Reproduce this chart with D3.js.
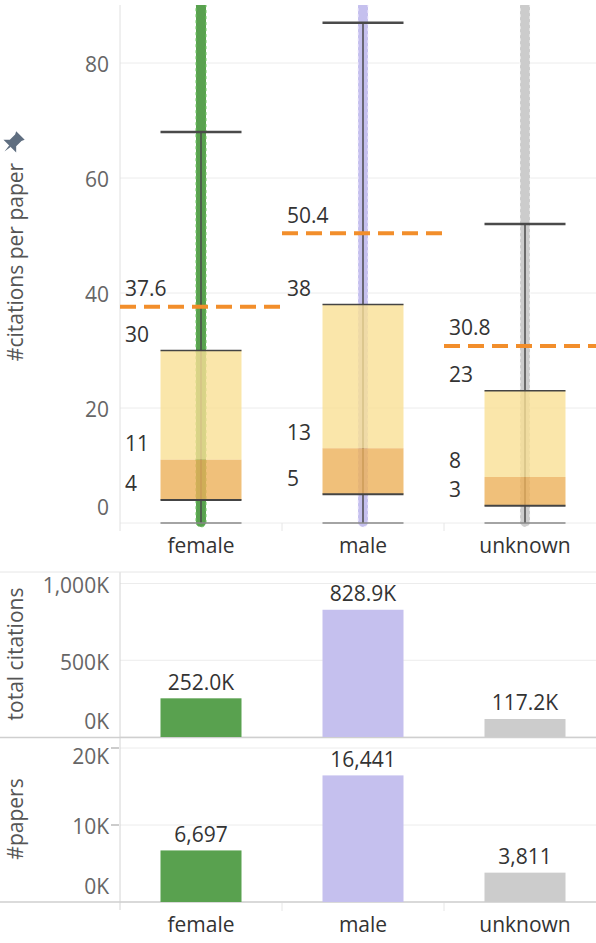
<!DOCTYPE html>
<html lang="en">
<head>
<meta charset="UTF-8"/>
<title>Citations by gender</title>
<script src="https://d3js.org/d3.v7.min.js"></script>
<style>
    body { margin: 0; background: #fff; }
    text { font-family: "Open Sans", "Noto Sans", sans-serif; }
</style>
</head>
<body>
<svg id="chart"></svg>
<script>
    // data
    const categories = ["female", "male", "unknown"];
    const colors = ["#59A14F", "#C5C0EE", "#CCCCCC"];
    const whiskerLow = [0, 0, 0];
    const q1 = [4, 5, 3];
    const median = [11, 13, 8];
    const q3 = [30, 38, 23];
    const whiskerHigh = [68, 87, 52];
    const mean = [37.6, 50.4, 30.8];
    const pointMax = [95, 95, 95];   // points run past the top of the axis
    const totalCitations = [252000, 828900, 117200];
    const papers = [6697, 16441, 3811];
    const boxTicks = [0, 20, 40, 60, 80];
    const citeTicks = [0, 500000, 1000000];
    const paperTicks = [0, 10000, 20000];

    const width = 596, height = 943;
    const left = 120;

    const svg = d3.select("#chart").attr("width", width).attr("height", height);

    const x = d3.scaleBand().domain(categories).range([left, left + 162 * 3]);
    const bw = x.bandwidth() / 2;   // box / bar width
    const boxX = c => x(c) + (x.bandwidth() - bw) / 2;
    const mid = c => x(c) + x.bandwidth() / 2;

    // panes
    const pTop = {top: 5, bottom: 523, y: d3.scaleLinear().domain([0, 90]).range([523, 5.5])};
    const pCite = {top: 572, bottom: 737, y: d3.scaleLinear().domain([0, 1000000]).range([737, 583.5])};
    const pPap = {top: 748, bottom: 902, y: d3.scaleLinear().domain([0, 20000]).range([902, 748])};

    svg.append("defs").append("clipPath").attr("id", "clipTop")
        .append("rect").attr("x", left).attr("y", pTop.top).attr("width", width - left).attr("height", pTop.bottom - pTop.top + 6);

    // grid lines + tick labels
    function drawAxis(pane, ticks, fmt, tickMarks) {
        const g = svg.append("g");
        g.selectAll("line.grid").data(ticks).join("line")
            .attr("x1", left).attr("x2", width)
            .attr("y1", d => pane.y(d)).attr("y2", d => pane.y(d))
            .attr("stroke", "#ececec").attr("stroke-width", 1);
        g.selectAll("text").data(ticks).join("text")
            .attr("x", 109)
            .attr("y", d => Math.max(pane.top + 9, Math.min(pane.y(d) + 2, pane.bottom - 15)))
            .attr("dy", "0.35em")
            .attr("text-anchor", "end")
            .style("font-size", "21px")
            .style("fill", "#666")
            .text(fmt);
        if (tickMarks) {
            g.selectAll("line.tick").data(ticks.filter(d => d > 0)).join("line")
                .attr("x1", 111).attr("x2", 119)
                .attr("y1", d => pane.y(d)).attr("y2", d => pane.y(d))
                .attr("stroke", "#999");
        }
    }

    drawAxis(pTop, boxTicks, d => d, false);
    drawAxis(pCite, citeTicks, d => d3.format(",")(d / 1000) + "K", false);
    drawAxis(pPap, paperTicks, d => d / 1000 + "K", true);

    // frame lines
    svg.append("line").attr("x1", left).attr("x2", left).attr("y1", 5).attr("y2", 531).attr("stroke", "#e0e0e0");
    svg.append("line").attr("x1", left).attr("x2", left).attr("y1", 572).attr("y2", 910).attr("stroke", "#d4d4d4");
    svg.append("line").attr("x1", 0).attr("x2", width).attr("y1", 572).attr("y2", 572).attr("stroke", "#e6e6e6");
    svg.append("line").attr("x1", 0).attr("x2", width).attr("y1", 737.5).attr("y2", 737.5).attr("stroke", "#cfcfcf").attr("stroke-width", 1.5);
    svg.append("line").attr("x1", 0).attr("x2", width).attr("y1", 902).attr("y2", 902).attr("stroke", "#cfcfcf").attr("stroke-width", 1.5);
    [x("male"), x("unknown")].forEach(xx => {
        svg.append("line").attr("x1", xx).attr("x2", xx).attr("y1", 523).attr("y2", 531).attr("stroke", "#e6e6e6");
        svg.append("line").attr("x1", xx).attr("x2", xx).attr("y1", 903).attr("y2", 911).attr("stroke", "#e6e6e6");
    });

    // box plot
    const rows = categories.map((c, i) => ({
        c, color: colors[i], lo: whiskerLow[i], q1: q1[i], med: median[i], q3: q3[i],
        hi: whiskerHigh[i], mean: mean[i], pmax: pointMax[i]
    }));
    const y = pTop.y;
    const box = svg.append("g").attr("clip-path", "url(#clipTop)");

    // points strip
    box.selectAll("rect.strip").data(rows).join("rect")
        .attr("x", d => mid(d.c) - 5)
        .attr("width", 10)
        .attr("y", d => y(d.pmax))
        .attr("height", d => y(d.lo) - y(d.pmax) + 4)
        .attr("rx", 5)
        .attr("fill", d => d.color)
        .attr("stroke", d => d3.color(d.color).brighter(0.6))
        .attr("stroke-dasharray", "3,3");

    // whisker
    box.selectAll("line.whisker").data(rows).join("line")
        .attr("x1", d => mid(d.c)).attr("x2", d => mid(d.c))
        .attr("y1", d => y(d.lo)).attr("y2", d => y(d.hi))
        .attr("stroke", "#4a4a4a").attr("stroke-width", 1.5);

    // boxes: q3..median light, median..q1 dark
    box.selectAll("rect.upper").data(rows).join("rect")
        .attr("x", d => boxX(d.c)).attr("width", bw)
        .attr("y", d => y(d.q3)).attr("height", d => y(d.med) - y(d.q3))
        .attr("fill", "#F9E095").attr("fill-opacity", 0.8);
    box.selectAll("rect.lower").data(rows).join("rect")
        .attr("x", d => boxX(d.c)).attr("width", bw)
        .attr("y", d => y(d.med)).attr("height", d => y(d.q1) - y(d.med))
        .attr("fill", "#ECB059").attr("fill-opacity", 0.8);

    // box edges and caps
    const hLine = (cls, key, stroke, sw) => box.selectAll("line." + cls).data(rows).join("line")
        .attr("x1", d => boxX(d.c)).attr("x2", d => boxX(d.c) + bw)
        .attr("y1", d => y(d[key])).attr("y2", d => y(d[key]))
        .attr("stroke", stroke).attr("stroke-width", sw);
    hLine("q3", "q3", "#444", 1.5);
    hLine("q1", "q1", "#444", 1.8);
    hLine("hi", "hi", "#4a4a4a", 2.6);
    hLine("lo", "lo", "#888", 1.5);

    // mean lines
    svg.selectAll("line.mean").data(rows).join("line")
        .attr("x1", d => x(d.c)).attr("x2", d => x(d.c) + x.bandwidth())
        .attr("y1", d => y(d.mean)).attr("y2", d => y(d.mean))
        .attr("stroke", "#F28E2B").attr("stroke-width", 4)
        .attr("stroke-dasharray", "16,8");

    // value labels in box plot
    const labelData = [];
    rows.forEach(d => {
        labelData.push({c: d.c, v: d.mean, t: d3.format(".1f")(d.mean), off: 18});
        labelData.push({c: d.c, v: d.q3, t: d.q3, off: 16});
        labelData.push({c: d.c, v: d.med, t: d.med, off: 16});
        labelData.push({c: d.c, v: d.q1, t: d.q1, off: 16});
    });
    svg.selectAll("text.boxlab").data(labelData).join("text")
        .attr("x", d => x(d.c) + 5)
        .attr("y", d => y(d.v) - d.off)
        .attr("dy", "0.35em")
        .style("font-size", "21px")
        .style("fill", "#333")
        .text(d => d.t);

    // bars
    function drawBars(pane, values, fmt) {
        const data = categories.map((c, i) => ({c, v: values[i], color: colors[i]}));
        svg.append("g").selectAll("rect").data(data).join("rect")
            .attr("x", d => boxX(d.c)).attr("width", bw)
            .attr("y", d => pane.y(d.v)).attr("height", d => pane.y(0) - pane.y(d.v))
            .attr("fill", d => d.color);
        svg.append("g").selectAll("text").data(data).join("text")
            .attr("x", d => mid(d.c))
            .attr("y", d => pane.y(d.v) - 16)
            .attr("dy", "0.35em")
            .attr("text-anchor", "middle")
            .style("font-size", "21px")
            .style("fill", "#333")
            .text(d => fmt(d.v));
    }
    drawBars(pCite, totalCitations, v => d3.format(".1f")(v / 1000) + "K");
    drawBars(pPap, papers, d3.format(","));

    // category labels
    [546, 925].forEach(yy => {
        svg.append("g").selectAll("text").data(categories).join("text")
            .attr("x", d => mid(d))
            .attr("y", yy)
            .attr("dy", "0.35em")
            .attr("text-anchor", "middle")
            .style("font-size", "21px")
            .style("fill", "#333")
            .text(d => d);
    });

    // axis titles
    const titles = [
        {t: "#citations per paper", y: 262},
        {t: "total citations", y: 654},
        {t: "#papers", y: 819}
    ];
    svg.selectAll("text.title").data(titles).join("text")
        .attr("transform", d => `translate(16, ${d.y}) rotate(-90)`)
        .attr("dy", "0.35em")
        .attr("text-anchor", "middle")
        .style("font-size", "21px")
        .style("fill", "#555")
        .text(d => d.t);

    // pin icon next to the first title
    svg.append("path")
        .attr("transform", "translate(13, 143) rotate(45) scale(1.5)")
        .attr("d", "M-4,-7 L4,-7 L3,-5 L3,0 L6,3 L-6,3 L-3,0 L-3,-5 Z M-0.7,3 L0.7,3 L0,8 Z")
        .attr("fill", "#5f6e80");
</script>
</body>
</html>
